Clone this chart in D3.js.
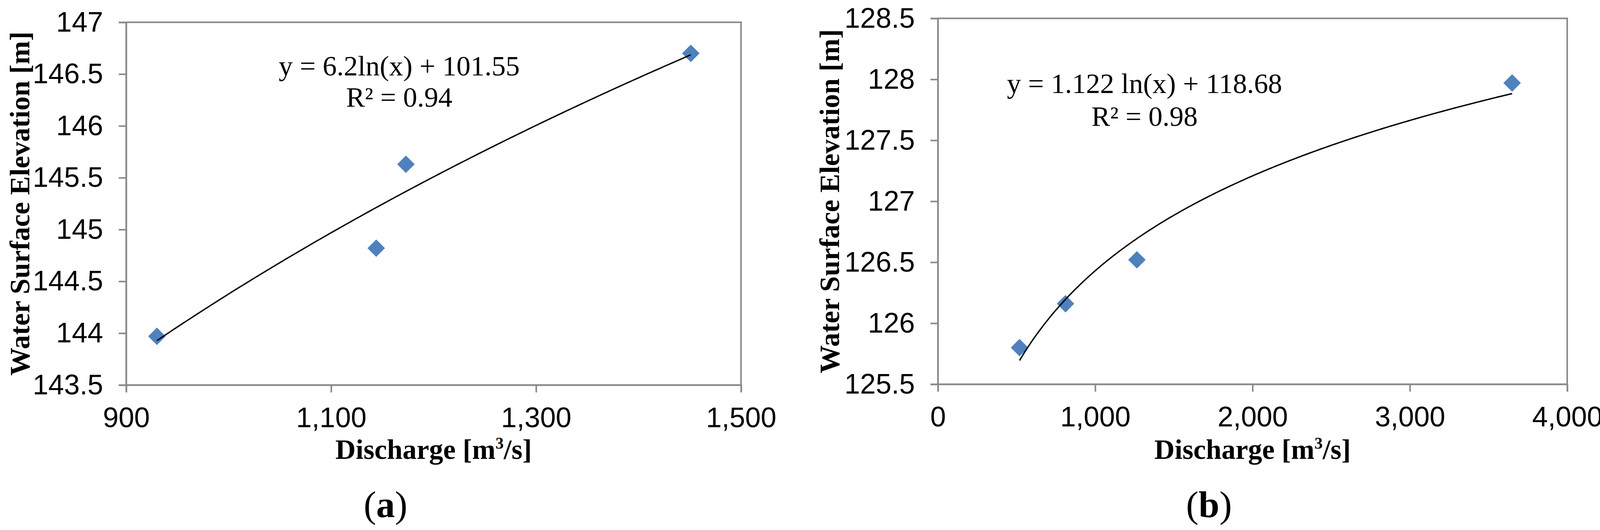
<!DOCTYPE html>
<html>
<head>
<meta charset="utf-8">
<script src="https://cdn.jsdelivr.net/npm/d3@7"></script>
<style>
  html, body { margin: 0; padding: 0; background: #fff; }
  svg { display: block; font-family: "Liberation Serif", "Times New Roman", serif; }
  .axis path, .axis line { stroke: #8a8a8a; stroke-width: 4; }
  .axis text { font-size: 72px; fill: #000; }
  .frame { fill: none; stroke: #8a8a8a; stroke-width: 4; }
  .trend { fill: none; stroke: #000; stroke-width: 3.5; }
  .title { font-size: 72px; font-weight: bold; fill: #000; }
  .equation { font-size: 72px; fill: #000; }
  .panel { font-size: 96px; fill: #000; }
</style>
</head>
<body>
<div id="chart"></div>
<script>
// Panel (a)
var dischargeA = [930, 1144, 1173, 1451];
var elevationA = [143.97, 144.82, 145.63, 146.7];
var xTicksA = [900, 1100, 1300, 1500];
var yTicksA = [143.5, 144, 144.5, 145, 145.5, 146, 146.5, 147];
var fitA = { slope: 6.2, intercept: 101.55, r2: "0.94" };
var equationA = ["y = 6.2ln(x) + 101.55", "R\u00B2 = 0.94"];

// Panel (b)
var dischargeB = [519, 811, 1265, 3650];
var elevationB = [125.8, 126.16, 126.52, 127.97];
var xTicksB = [0, 1000, 2000, 3000, 4000];
var yTicksB = [125.5, 126, 126.5, 127, 127.5, 128, 128.5];
var fitB = { slope: 1.122, intercept: 118.68, r2: "0.98" };
var equationB = ["y = 1.122 ln(x) + 118.68", "R\u00B2 = 0.98"];

var WIDTH = 4108;
var HEIGHT = 1356;
var MARKER_COLOR = "#4f81bd";

var svg = d3
  .select("#chart")
  .append("svg")
  .attr("width", WIDTH)
  .attr("height", HEIGHT);

// Render one scatter panel with its log trendline.
var renderPanel = function(config) {
  var box = config.box;
  var chartWidth = box.right - box.left;
  var chartHeight = box.bottom - box.top;

  var xScale = d3
    .scaleLinear()
    .domain(d3.extent(config.xTicks))
    .range([0, chartWidth]);

  var yScale = d3
    .scaleLinear()
    .domain(d3.extent(config.yTicks))
    .range([chartHeight, 0]);

  var chartElement = svg
    .append("g")
    .attr("transform", "translate(" + box.left + "," + box.top + ")");

  // Plot area border (top and right show)
  chartElement
    .append("rect")
    .attr("class", "frame")
    .attr("width", chartWidth)
    .attr("height", chartHeight);

  var yAxis = d3
    .axisLeft(yScale)
    .tickValues(config.yTicks)
    .tickSize(19)
    .tickPadding(40)
    .tickFormat(function(d) {
      return d % 1 ? d.toFixed(1) : d;
    });

  chartElement
    .append("g")
    .attr("class", "y axis")
    .call(yAxis);

  var xAxis = d3
    .axisBottom(xScale)
    .tickValues(config.xTicks)
    .tickSize(19)
    .tickPadding(38)
    .tickFormat(d3.format(","));

  chartElement
    .append("g")
    .attr("class", "x axis")
    .attr("transform", "translate(0," + chartHeight + ")")
    .call(xAxis);

  // Markers (Excel diamond = square turned 45deg)
  var diamond = d3.symbol().type(d3.symbolSquare).size(1000);
  var points = config.discharge.map(function(x, i) {
    return [x, config.elevation[i]];
  });

  chartElement
    .append("g")
    .selectAll("path")
    .data(points)
    .enter()
    .append("path")
    .attr("d", diamond)
    .attr("fill", MARKER_COLOR)
    .attr("transform", function(d) {
      return "translate(" + xScale(d[0]) + "," + yScale(d[1]) + ") rotate(45)";
    });

  // Trendline y = a ln(x) + b over the data range
  var xRange = d3.extent(config.discharge);
  var samples = d3.range(0, 201).map(function(i) {
    var x = xRange[0] + ((xRange[1] - xRange[0]) * i) / 200;
    return [x, config.fit.slope * Math.log(x) + config.fit.intercept];
  });

  chartElement
    .append("path")
    .attr("class", "trend")
    .attr("d", d3.line()
      .x(function(d) { return xScale(d[0]); })
      .y(function(d) { return yScale(d[1]); })(samples));

  // Trendline label
  svg
    .append("g")
    .selectAll("text")
    .data(config.equation)
    .enter()
    .append("text")
    .attr("class", "equation")
    .attr("text-anchor", "middle")
    .attr("x", config.equationPos[0])
    .attr("y", function(d, i) {
      return config.equationPos[1] + i * config.equationGap;
    })
    .text(function(d) { return d; });

  // Axis titles
  svg
    .append("text")
    .attr("class", "title")
    .attr("text-anchor", "middle")
    .attr("transform", "translate(" + config.yTitleX + "," + (box.top + chartHeight / 2) + ") rotate(-90)")
    .text("Water Surface Elevation [m]");

  var xTitle = svg
    .append("text")
    .attr("class", "title")
    .attr("text-anchor", "middle")
    .attr("x", box.left + chartWidth / 2)
    .attr("y", 1174);
  xTitle.append("tspan").text("Discharge [m");
  xTitle.append("tspan").attr("font-size", "42px").attr("dy", -26).text("3");
  xTitle.append("tspan").attr("dy", 26).text("/s]");

  // Panel letter
  var panel = svg
    .append("text")
    .attr("class", "panel")
    .attr("text-anchor", "middle")
    .attr("x", config.panelX)
    .attr("y", 1323);
  panel.append("tspan").text("(");
  panel.append("tspan").attr("font-weight", "bold").text(config.panel);
  panel.append("tspan").text(")");
};

renderPanel({
  box: { left: 323, right: 1897, top: 57, bottom: 985 },
  discharge: dischargeA,
  elevation: elevationA,
  xTicks: xTicksA,
  yTicks: yTicksA,
  fit: fitA,
  equation: equationA,
  equationPos: [1022, 193],
  equationGap: 80,
  yTitleX: 75,
  panel: "a",
  panelX: 987
});

renderPanel({
  box: { left: 2401, right: 4012, top: 47, bottom: 983 },
  discharge: dischargeB,
  elevation: elevationB,
  xTicks: xTicksB,
  yTicks: yTicksB,
  fit: fitB,
  equation: equationB,
  equationPos: [2930, 238],
  equationGap: 84,
  yTitleX: 2148,
  panel: "b",
  panelX: 3095
});
</script>
</body>
</html>
